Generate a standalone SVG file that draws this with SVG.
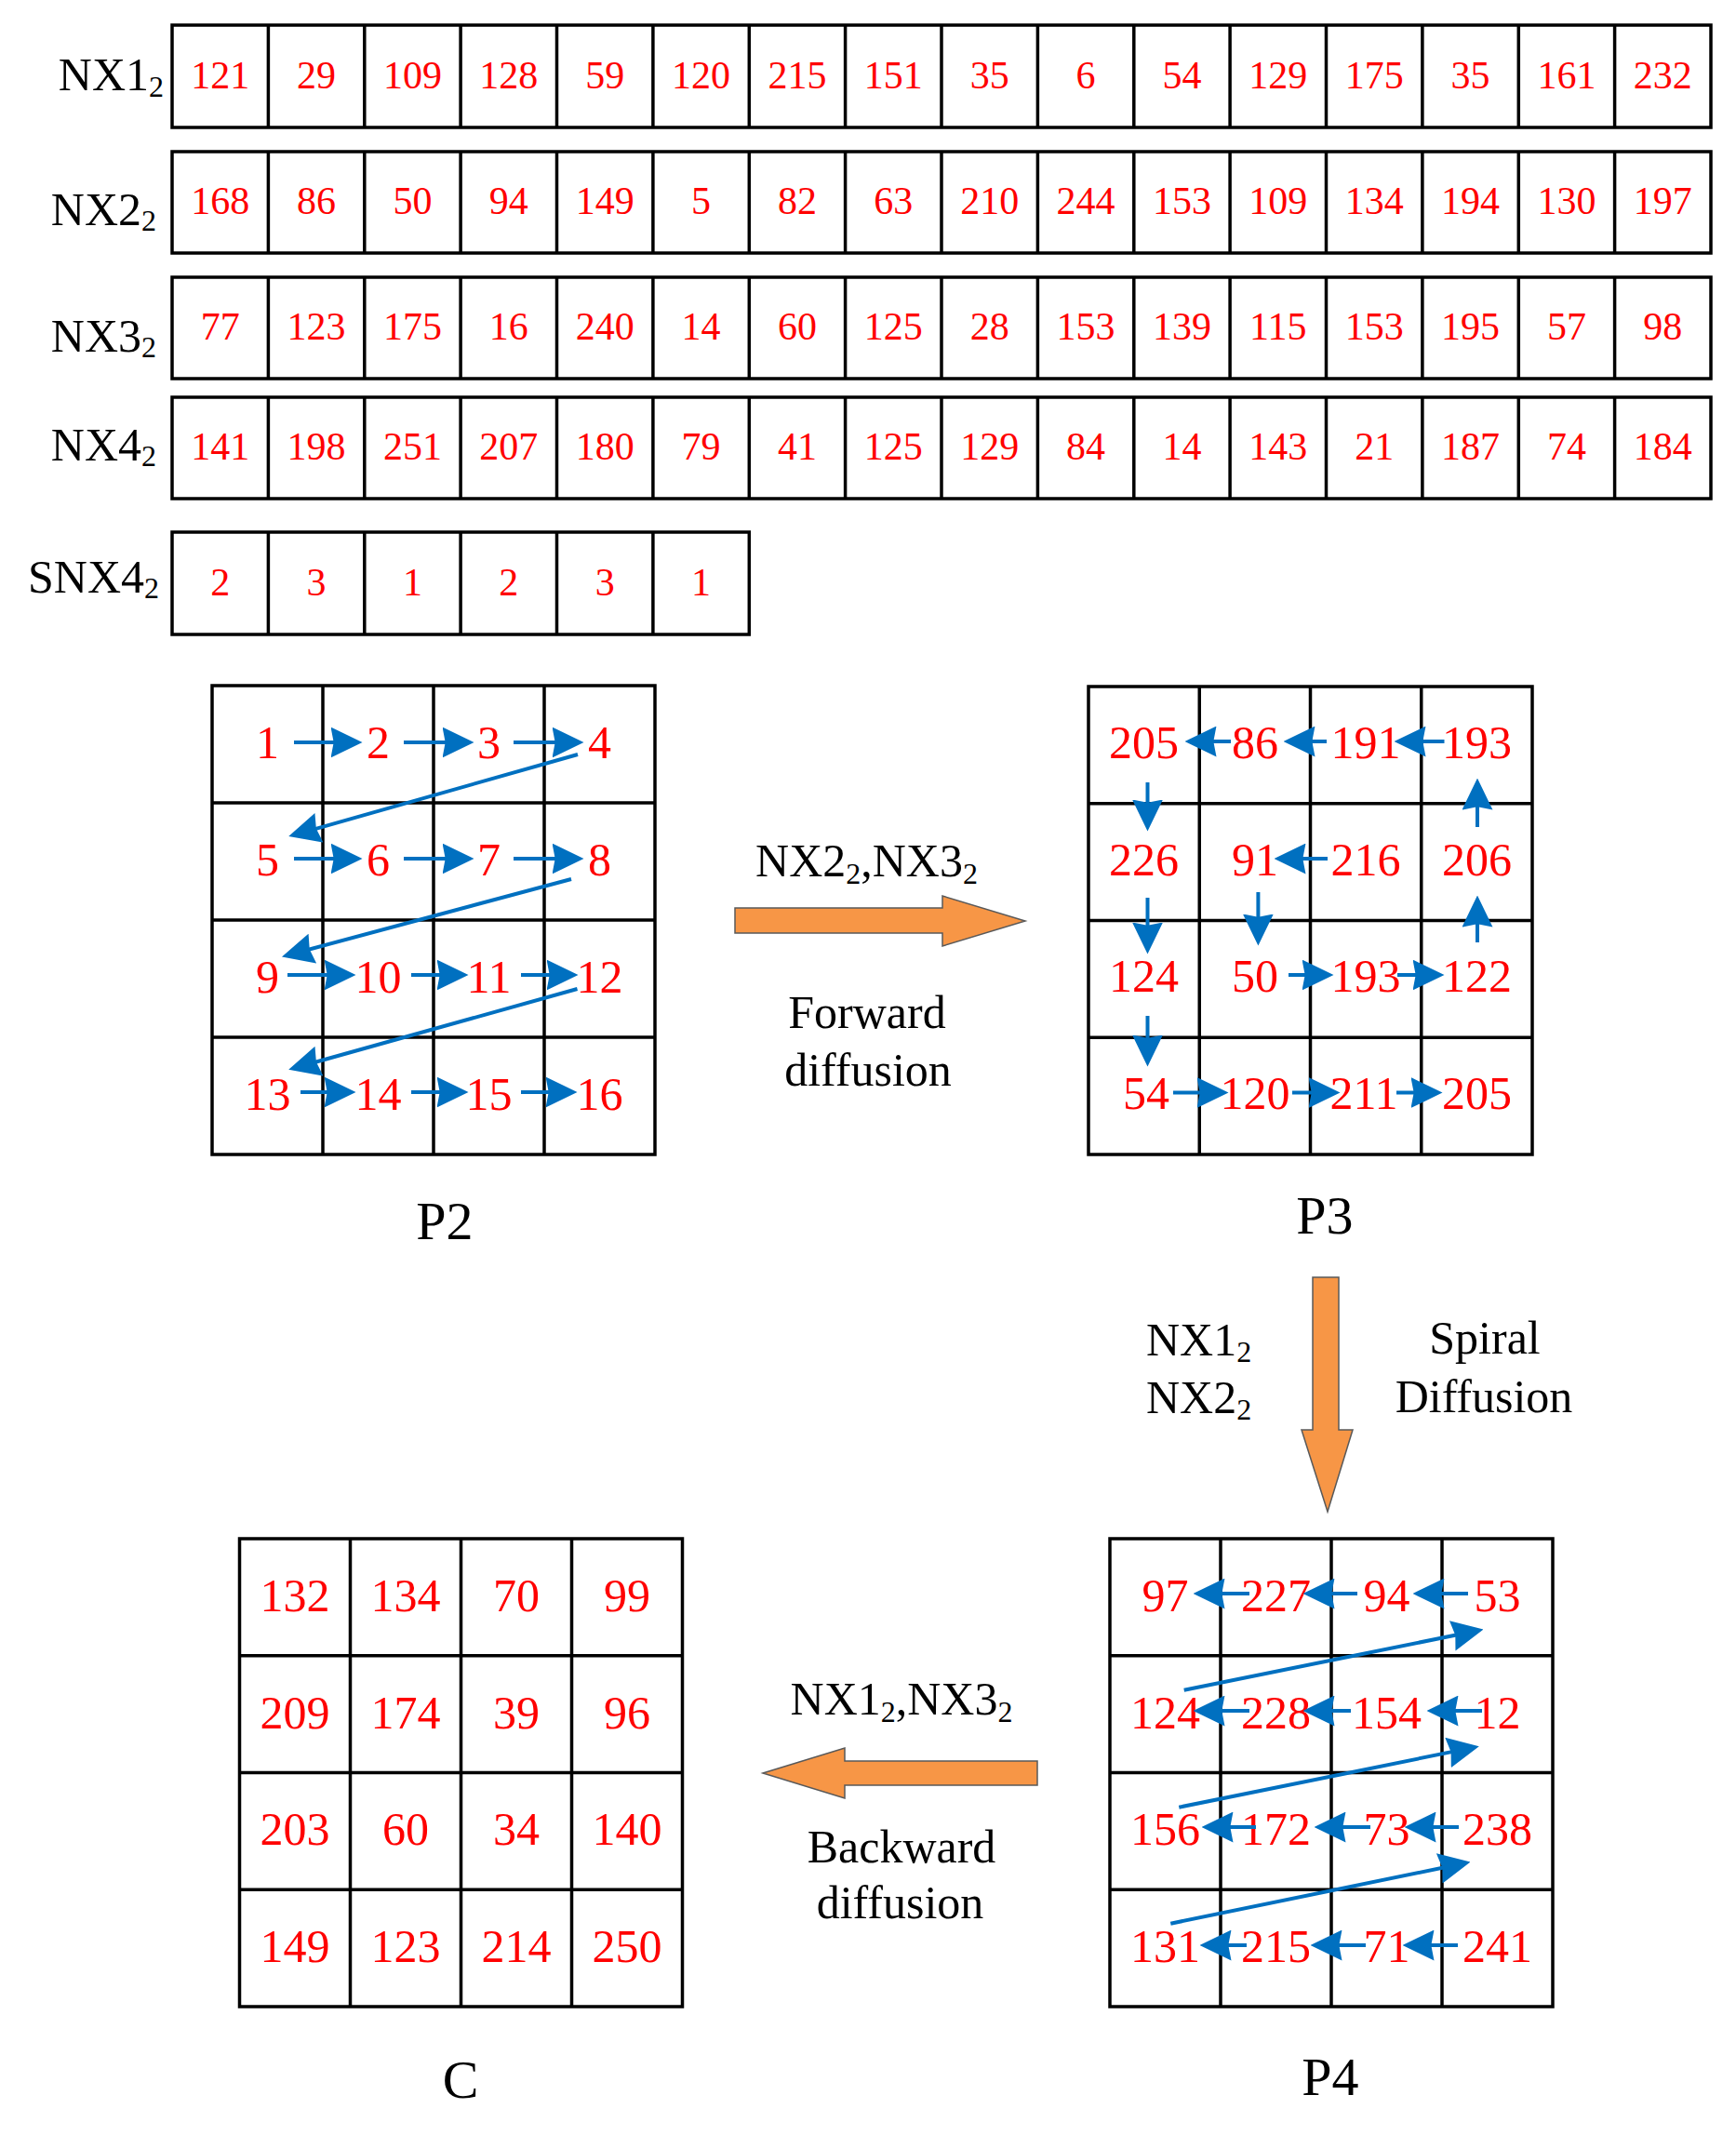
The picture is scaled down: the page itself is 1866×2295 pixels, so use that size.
<svg xmlns="http://www.w3.org/2000/svg" width="1866" height="2295" viewBox="0 0 1866 2295">
<style>
text{font-family:"Liberation Serif","Times New Roman",serif;}
.lbl{font-size:50px;fill:#000;}
.sub{font-size:32px;}
.tn{font-size:42px;fill:#FF0000;text-anchor:middle;}
.gn{font-size:50px;fill:#FF0000;text-anchor:middle;}
.cap{font-size:58px;fill:#000;text-anchor:middle;}
.mid{text-anchor:middle;}
.end{text-anchor:end;}
.box{fill:#fff;stroke:#000;stroke-width:3.5;}
.ln{fill:none;stroke:#000;stroke-width:3.5;}
.conn line{stroke:#0070C0;stroke-width:4;marker-end:url(#ah);}
.big{fill:#F79646;stroke:#595959;stroke-width:1.5;stroke-linejoin:miter;}
</style>
<defs>
<marker id="ah" markerUnits="userSpaceOnUse" markerWidth="34" markerHeight="33" viewBox="0 0 32 31" refX="24" refY="15.5" orient="auto">
<path d="M0,0 L32,15.5 L0,31 L3,15.5 Z" fill="#0070C0"/>
</marker>
</defs>
<rect width="1866" height="2295" fill="#fff"/>

<g id="nx1">
<text class="lbl end" x="176" y="97">NX1<tspan class="sub" dy="7">2</tspan></text>
<rect class="box" x="185" y="27" width="1654" height="110"/>
<path class="ln" d="M288.4,27V137M391.8,27V137M495.1,27V137M598.5,27V137M701.9,27V137M805.3,27V137M908.6,27V137M1012,27V137M1115.4,27V137M1218.8,27V137M1322.1,27V137M1425.5,27V137M1528.9,27V137M1632.3,27V137M1735.6,27V137"/>
<text class="tn" x="236.7" y="95">121</text><text class="tn" x="340.1" y="95">29</text><text class="tn" x="443.4" y="95">109</text><text class="tn" x="546.8" y="95">128</text><text class="tn" x="650.2" y="95">59</text><text class="tn" x="753.6" y="95">120</text><text class="tn" x="856.9" y="95">215</text><text class="tn" x="960.3" y="95">151</text><text class="tn" x="1063.7" y="95">35</text><text class="tn" x="1167.1" y="95">6</text><text class="tn" x="1270.4" y="95">54</text><text class="tn" x="1373.8" y="95">129</text><text class="tn" x="1477.2" y="95">175</text><text class="tn" x="1580.6" y="95">35</text><text class="tn" x="1683.9" y="95">161</text><text class="tn" x="1787.3" y="95">232</text>
</g>

<g id="nx2">
<text class="lbl end" x="168" y="242">NX2<tspan class="sub" dy="6">2</tspan></text>
<rect class="box" x="185" y="163" width="1654" height="109"/>
<path class="ln" d="M288.4,163V272M391.8,163V272M495.1,163V272M598.5,163V272M701.9,163V272M805.3,163V272M908.6,163V272M1012,163V272M1115.4,163V272M1218.8,163V272M1322.1,163V272M1425.5,163V272M1528.9,163V272M1632.3,163V272M1735.6,163V272"/>
<text class="tn" x="236.7" y="230">168</text><text class="tn" x="340.1" y="230">86</text><text class="tn" x="443.4" y="230">50</text><text class="tn" x="546.8" y="230">94</text><text class="tn" x="650.2" y="230">149</text><text class="tn" x="753.6" y="230">5</text><text class="tn" x="856.9" y="230">82</text><text class="tn" x="960.3" y="230">63</text><text class="tn" x="1063.7" y="230">210</text><text class="tn" x="1167.1" y="230">244</text><text class="tn" x="1270.4" y="230">153</text><text class="tn" x="1373.8" y="230">109</text><text class="tn" x="1477.2" y="230">134</text><text class="tn" x="1580.6" y="230">194</text><text class="tn" x="1683.9" y="230">130</text><text class="tn" x="1787.3" y="230">197</text>
</g>

<g id="nx3">
<text class="lbl end" x="168" y="378">NX3<tspan class="sub" dy="6">2</tspan></text>
<rect class="box" x="185" y="298" width="1654" height="109"/>
<path class="ln" d="M288.4,298V407M391.8,298V407M495.1,298V407M598.5,298V407M701.9,298V407M805.3,298V407M908.6,298V407M1012,298V407M1115.4,298V407M1218.8,298V407M1322.1,298V407M1425.5,298V407M1528.9,298V407M1632.3,298V407M1735.6,298V407"/>
<text class="tn" x="236.7" y="365">77</text><text class="tn" x="340.1" y="365">123</text><text class="tn" x="443.4" y="365">175</text><text class="tn" x="546.8" y="365">16</text><text class="tn" x="650.2" y="365">240</text><text class="tn" x="753.6" y="365">14</text><text class="tn" x="856.9" y="365">60</text><text class="tn" x="960.3" y="365">125</text><text class="tn" x="1063.7" y="365">28</text><text class="tn" x="1167.1" y="365">153</text><text class="tn" x="1270.4" y="365">139</text><text class="tn" x="1373.8" y="365">115</text><text class="tn" x="1477.2" y="365">153</text><text class="tn" x="1580.6" y="365">195</text><text class="tn" x="1683.9" y="365">57</text><text class="tn" x="1787.3" y="365">98</text>
</g>

<g id="nx4">
<text class="lbl end" x="168" y="495">NX4<tspan class="sub" dy="6">2</tspan></text>
<rect class="box" x="185" y="427" width="1654" height="109"/>
<path class="ln" d="M288.4,427V536M391.8,427V536M495.1,427V536M598.5,427V536M701.9,427V536M805.3,427V536M908.6,427V536M1012,427V536M1115.4,427V536M1218.8,427V536M1322.1,427V536M1425.5,427V536M1528.9,427V536M1632.3,427V536M1735.6,427V536"/>
<text class="tn" x="236.7" y="494">141</text><text class="tn" x="340.1" y="494">198</text><text class="tn" x="443.4" y="494">251</text><text class="tn" x="546.8" y="494">207</text><text class="tn" x="650.2" y="494">180</text><text class="tn" x="753.6" y="494">79</text><text class="tn" x="856.9" y="494">41</text><text class="tn" x="960.3" y="494">125</text><text class="tn" x="1063.7" y="494">129</text><text class="tn" x="1167.1" y="494">84</text><text class="tn" x="1270.4" y="494">14</text><text class="tn" x="1373.8" y="494">143</text><text class="tn" x="1477.2" y="494">21</text><text class="tn" x="1580.6" y="494">187</text><text class="tn" x="1683.9" y="494">74</text><text class="tn" x="1787.3" y="494">184</text>
</g>

<g id="snx4">
<text class="lbl end" x="171" y="637">SNX4<tspan class="sub" dy="6">2</tspan></text>
<rect class="box" x="185" y="572" width="620.3" height="110"/>
<path class="ln" d="M288.4,572V682M391.8,572V682M495.1,572V682M598.5,572V682M701.9,572V682"/>
<text class="tn" x="236.7" y="640">2</text><text class="tn" x="340.1" y="640">3</text><text class="tn" x="443.4" y="640">1</text><text class="tn" x="546.8" y="640">2</text><text class="tn" x="650.2" y="640">3</text><text class="tn" x="753.6" y="640">1</text>
</g>

<g id="p2">
<rect class="box" x="228" y="737" width="476" height="504"/>
<path class="ln" d="M347,737V1241M466,737V1241M585,737V1241M228,863H704M228,989H704M228,1115H704"/>
<text class="gn" x="287.5" y="815">1</text><text class="gn" x="406.5" y="815">2</text><text class="gn" x="525.5" y="815">3</text><text class="gn" x="644.5" y="815">4</text>
<text class="gn" x="287.5" y="941">5</text><text class="gn" x="406.5" y="941">6</text><text class="gn" x="525.5" y="941">7</text><text class="gn" x="644.5" y="941">8</text>
<text class="gn" x="287.5" y="1067">9</text><text class="gn" x="406.5" y="1067">10</text><text class="gn" x="525.5" y="1067">11</text><text class="gn" x="644.5" y="1067">12</text>
<text class="gn" x="287.5" y="1193">13</text><text class="gn" x="406.5" y="1193">14</text><text class="gn" x="525.5" y="1193">15</text><text class="gn" x="644.5" y="1193">16</text>
<text class="cap" x="478" y="1332">P2</text>
</g>

<g id="p3">
<rect class="box" x="1170" y="738" width="477" height="503"/>
<path class="ln" d="M1289.25,738V1241M1408.5,738V1241M1527.75,738V1241M1170,863.75H1647M1170,989.5H1647M1170,1115.25H1647"/>
<text class="gn" x="1229.6" y="815">205</text><text class="gn" x="1348.9" y="815">86</text><text class="gn" x="1468.1" y="815">191</text><text class="gn" x="1587.4" y="815">193</text>
<text class="gn" x="1229.6" y="941">226</text><text class="gn" x="1348.9" y="941">91</text><text class="gn" x="1468.1" y="941">216</text><text class="gn" x="1587.4" y="941">206</text>
<text class="gn" x="1229.6" y="1066">124</text><text class="gn" x="1348.9" y="1066">50</text><text class="gn" x="1468.1" y="1066">193</text><text class="gn" x="1587.4" y="1066">122</text>
<text class="gn" x="1232" y="1192">54</text><text class="gn" x="1348.9" y="1192">120</text><text class="gn" x="1466" y="1192">211</text><text class="gn" x="1587.4" y="1192">205</text>
<text class="cap" x="1424" y="1326">P3</text>
</g>

<g id="p4">
<rect class="box" x="1193" y="1654" width="476" height="503"/>
<path class="ln" d="M1312,1654V2157M1431,1654V2157M1550,1654V2157M1193,1779.75H1669M1193,1905.5H1669M1193,2031.25H1669"/>
<text class="gn" x="1252.5" y="1732">97</text><text class="gn" x="1371.5" y="1732">227</text><text class="gn" x="1490.5" y="1732">94</text><text class="gn" x="1609.5" y="1732">53</text>
<text class="gn" x="1252.5" y="1858">124</text><text class="gn" x="1371.5" y="1858">228</text><text class="gn" x="1490.5" y="1858">154</text><text class="gn" x="1609.5" y="1858">12</text>
<text class="gn" x="1252.5" y="1983">156</text><text class="gn" x="1371.5" y="1983">172</text><text class="gn" x="1490.5" y="1983">73</text><text class="gn" x="1609.5" y="1983">238</text>
<text class="gn" x="1252.5" y="2109">131</text><text class="gn" x="1371.5" y="2109">215</text><text class="gn" x="1490.5" y="2109">71</text><text class="gn" x="1609.5" y="2109">241</text>
<text class="cap" x="1430" y="2252">P4</text>
</g>

<g id="c">
<rect class="box" x="257.5" y="1654" width="476" height="503"/>
<path class="ln" d="M376.5,1654V2157M495.5,1654V2157M614.5,1654V2157M257.5,1779.75H733.5M257.5,1905.5H733.5M257.5,2031.25H733.5"/>
<text class="gn" x="317" y="1732">132</text><text class="gn" x="436" y="1732">134</text><text class="gn" x="555" y="1732">70</text><text class="gn" x="674" y="1732">99</text>
<text class="gn" x="317" y="1858">209</text><text class="gn" x="436" y="1858">174</text><text class="gn" x="555" y="1858">39</text><text class="gn" x="674" y="1858">96</text>
<text class="gn" x="317" y="1983">203</text><text class="gn" x="436" y="1983">60</text><text class="gn" x="555" y="1983">34</text><text class="gn" x="674" y="1983">140</text>
<text class="gn" x="317" y="2109">149</text><text class="gn" x="436" y="2109">123</text><text class="gn" x="555" y="2109">214</text><text class="gn" x="674" y="2109">250</text>
<text class="cap" x="495" y="2255">C</text>
</g>

<g id="forward">
<polygon class="big" points="790,976 1013,976 1013,963 1102,990 1013,1017 1013,1003 790,1003"/>
<text class="lbl mid" x="931.5" y="942">NX2<tspan class="sub" dy="8">2</tspan><tspan dy="-8">,NX3</tspan><tspan class="sub" dy="8">2</tspan></text>
<text class="lbl mid" x="932" y="1105">Forward</text>
<text class="lbl mid" x="933" y="1167">diffusion</text>
</g>

<g id="spiral">
<polygon class="big" points="1411,1373 1439,1373 1439,1537 1454,1537 1427,1625 1399,1537 1411,1537"/>
<text class="lbl" x="1232" y="1457">NX1<tspan class="sub" dy="7">2</tspan></text>
<text class="lbl" x="1232" y="1519">NX2<tspan class="sub" dy="7">2</tspan></text>
<text class="lbl mid" x="1596" y="1455">Spiral</text>
<text class="lbl mid" x="1595" y="1518">Diffusion</text>
</g>

<g id="backward">
<polygon class="big" points="820,1906 908,1879 908,1893 1115,1893 1115,1919 908,1919 908,1933"/>
<text class="lbl mid" x="969" y="1843">NX1<tspan class="sub" dy="8">2</tspan><tspan dy="-8">,NX3</tspan><tspan class="sub" dy="8">2</tspan></text>
<text class="lbl mid" x="969" y="2002">Backward</text>
<text class="lbl mid" x="967.5" y="2062">diffusion</text>
</g>

<g id="connectors" class="conn">
<line x1="316" y1="798" x2="381" y2="798"/><line x1="434" y1="798" x2="501" y2="798"/><line x1="552" y1="798" x2="619" y2="798"/>
<line x1="621" y1="811" x2="318.4" y2="896.8"/>
<line x1="316" y1="923" x2="381" y2="923"/><line x1="434" y1="923" x2="501" y2="923"/><line x1="552" y1="923" x2="619" y2="923"/>
<line x1="614" y1="945" x2="311.2" y2="1026.2"/>
<line x1="309" y1="1048" x2="374" y2="1048"/><line x1="442" y1="1048" x2="495" y2="1048"/><line x1="560" y1="1048" x2="613" y2="1048"/>
<line x1="620.5" y1="1063" x2="318.4" y2="1147.5"/>
<line x1="323" y1="1174" x2="374" y2="1174"/><line x1="442" y1="1174" x2="495" y2="1174"/><line x1="560" y1="1174" x2="612" y2="1174"/>

<line x1="1323" y1="797" x2="1282" y2="797"/><line x1="1426" y1="797" x2="1388" y2="797"/><line x1="1552.5" y1="797" x2="1507" y2="797"/>
<line x1="1233.5" y1="841" x2="1233.5" y2="885"/><line x1="1233.5" y1="965" x2="1233.5" y2="1017"/><line x1="1233.5" y1="1092" x2="1233.5" y2="1138"/>
<line x1="1427" y1="923" x2="1378" y2="923"/>
<line x1="1352.4" y1="959" x2="1352.4" y2="1008"/>
<line x1="1385" y1="1048" x2="1425" y2="1048"/><line x1="1502" y1="1048" x2="1544" y2="1048"/>
<line x1="1588" y1="1013" x2="1588" y2="971"/><line x1="1588" y1="889" x2="1588" y2="845"/>
<line x1="1261" y1="1174.6" x2="1312" y2="1174.6"/><line x1="1389" y1="1174.6" x2="1432" y2="1174.6"/><line x1="1501" y1="1174.6" x2="1542" y2="1174.6"/>

<line x1="1343" y1="1713" x2="1291" y2="1713"/><line x1="1459" y1="1713" x2="1409" y2="1713"/><line x1="1578" y1="1713" x2="1527" y2="1713"/>
<line x1="1272.7" y1="1816.7" x2="1586.2" y2="1753.3"/>
<line x1="1343" y1="1839" x2="1291" y2="1839"/><line x1="1452" y1="1839" x2="1409" y2="1839"/><line x1="1593" y1="1839" x2="1542" y2="1839"/>
<line x1="1267.3" y1="1942.7" x2="1581.5" y2="1878.9"/>
<line x1="1350" y1="1964" x2="1300" y2="1964"/><line x1="1473" y1="1964" x2="1421" y2="1964"/><line x1="1568" y1="1964" x2="1518" y2="1964"/>
<line x1="1258.3" y1="2067.7" x2="1572.2" y2="2003.3"/>
<line x1="1340" y1="2091" x2="1298" y2="2091"/><line x1="1468" y1="2091" x2="1417" y2="2091"/><line x1="1567" y1="2091" x2="1516" y2="2091"/>
</g>
</svg>
